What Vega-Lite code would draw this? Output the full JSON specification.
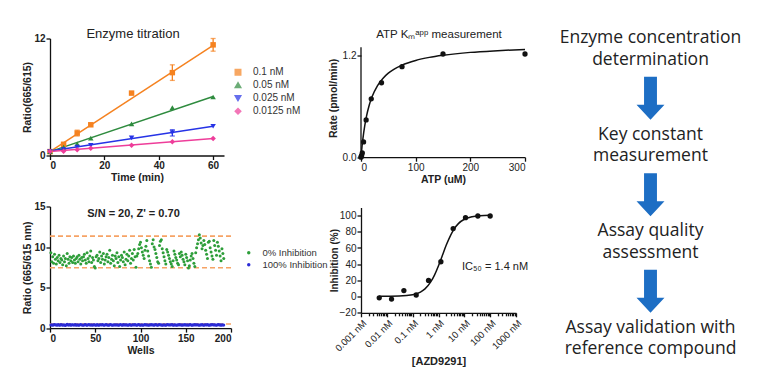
{
"$schema": "https://vega.github.io/schema/vega-lite/v6.json",
"background": "white",
"padding": {"left": 22, "top": 27.5, "right": 0, "bottom": 0},
"spacing": 0,
"resolve": {"scale": {"color": "independent", "shape": "independent"}, "legend": {"color": "independent", "shape": "independent"}},
"config": {
  "view": {"stroke": null},
  "font": "Liberation Sans",
  "axis": {"grid": false, "domainColor": "#111", "tickColor": "#111", "domainWidth": 1.3, "tickWidth": 1.3, "tickSize": 4, "labelFontSize": 10, "labelColor": "#222", "labelPadding": 1, "titleFontSize": 10.5, "titleFontWeight": "bold", "titleColor": "#222", "titlePadding": 2},
  "legend": {"labelFont": "Liberation Sans", "labelColor": "#333", "padding": 0}
},
"datasets": {
  "fit1": [
    {"conc": "0.1 nM", "t": 0, "r": 0.4}, {"conc": "0.1 nM", "t": 60, "r": 11.3},
    {"conc": "0.05 nM", "t": 0, "r": 0.4}, {"conc": "0.05 nM", "t": 60, "r": 6.05},
    {"conc": "0.025 nM", "t": 0, "r": 0.45}, {"conc": "0.025 nM", "t": 60, "r": 3.0},
    {"conc": "0.0125 nM", "t": 0, "r": 0.4}, {"conc": "0.0125 nM", "t": 60, "r": 1.75}
  ],
  "titr": [
    {"conc": "0.1 nM", "t": 0, "r": 0.4}, {"conc": "0.1 nM", "t": 5, "r": 1.15}, {"conc": "0.1 nM", "t": 10, "r": 2.3, "lo": 2.0, "hi": 2.6}, {"conc": "0.1 nM", "t": 15, "r": 3.15}, {"conc": "0.1 nM", "t": 30, "r": 6.4}, {"conc": "0.1 nM", "t": 45, "r": 8.5, "lo": 7.7, "hi": 9.3}, {"conc": "0.1 nM", "t": 60, "r": 11.35, "lo": 10.7, "hi": 12.0},
    {"conc": "0.05 nM", "t": 0, "r": 0.4}, {"conc": "0.05 nM", "t": 5, "r": 0.85}, {"conc": "0.05 nM", "t": 10, "r": 1.2}, {"conc": "0.05 nM", "t": 15, "r": 1.78}, {"conc": "0.05 nM", "t": 30, "r": 3.25}, {"conc": "0.05 nM", "t": 45, "r": 4.9}, {"conc": "0.05 nM", "t": 60, "r": 6.0},
    {"conc": "0.025 nM", "t": 0, "r": 0.4}, {"conc": "0.025 nM", "t": 5, "r": 0.6}, {"conc": "0.025 nM", "t": 10, "r": 0.85}, {"conc": "0.025 nM", "t": 15, "r": 1.05}, {"conc": "0.025 nM", "t": 30, "r": 1.8}, {"conc": "0.025 nM", "t": 45, "r": 2.35, "lo": 2.0, "hi": 2.65}, {"conc": "0.025 nM", "t": 60, "r": 3.0},
    {"conc": "0.0125 nM", "t": 0, "r": 0.4}, {"conc": "0.0125 nM", "t": 5, "r": 0.44}, {"conc": "0.0125 nM", "t": 10, "r": 0.6}, {"conc": "0.0125 nM", "t": 15, "r": 0.75}, {"conc": "0.0125 nM", "t": 30, "r": 1.05}, {"conc": "0.0125 nM", "t": 45, "r": 1.4}, {"conc": "0.0125 nM", "t": 60, "r": 1.75}
  ],
  "cuts": [{"v": 11.35}, {"v": 7.45}, {"v": 0.5}],
  "wells": [
{"w":1,"p0":9.3,"p100":0.38},{"w":2,"p0":8.2,"p100":0.42},{"w":3,"p0":8.8,"p100":0.35},{"w":4,"p0":8.0,"p100":0.40},{"w":5,"p0":9.1,"p100":0.45},{"w":6,"p0":8.5,"p100":0.37},{"w":7,"p0":7.9,"p100":0.41},{"w":8,"p0":8.7,"p100":0.36},{"w":9,"p0":8.3,"p100":0.43},{"w":10,"p0":9.0,"p100":0.39},{"w":11,"p0":8.1,"p100":0.34},{"w":12,"p0":8.6,"p100":0.44},
{"w":13,"p0":8.4,"p100":0.40},{"w":14,"p0":7.8,"p100":0.36},{"w":15,"p0":8.9,"p100":0.42},{"w":16,"p0":8.2,"p100":0.38},{"w":17,"p0":8.6,"p100":0.33},{"w":18,"p0":7.7,"p100":0.41},{"w":19,"p0":9.2,"p100":0.46},{"w":20,"p0":8.5,"p100":0.37},{"w":21,"p0":8.0,"p100":0.39},{"w":22,"p0":8.8,"p100":0.43},{"w":23,"p0":8.3,"p100":0.35},{"w":24,"p0":8.7,"p100":0.40},
{"w":25,"p0":8.1,"p100":0.42},{"w":26,"p0":8.9,"p100":0.37},{"w":27,"p0":8.4,"p100":0.39},{"w":28,"p0":8.0,"p100":0.44},{"w":29,"p0":8.6,"p100":0.36},{"w":30,"p0":8.8,"p100":0.40},{"w":31,"p0":8.2,"p100":0.38},{"w":32,"p0":9.0,"p100":0.34},{"w":33,"p0":8.5,"p100":0.41},{"w":34,"p0":7.9,"p100":0.45},{"w":35,"p0":8.7,"p100":0.37},{"w":36,"p0":8.3,"p100":0.39},
{"w":37,"p0":8.8,"p100":0.36},{"w":38,"p0":9.1,"p100":0.41},{"w":39,"p0":8.4,"p100":0.43},{"w":40,"p0":8.0,"p100":0.38},{"w":41,"p0":9.3,"p100":0.35},{"w":42,"p0":8.6,"p100":0.40},{"w":43,"p0":8.2,"p100":0.44},{"w":44,"p0":8.9,"p100":0.37},{"w":45,"p0":9.5,"p100":0.39},{"w":46,"p0":8.1,"p100":0.42},{"w":47,"p0":8.7,"p100":0.34},{"w":48,"p0":8.4,"p100":0.40},
{"w":49,"p0":7.6,"p100":0.41},{"w":50,"p0":7.4,"p100":0.38},{"w":51,"p0":8.8,"p100":0.36},{"w":52,"p0":9.0,"p100":0.43},{"w":53,"p0":8.3,"p100":0.39},{"w":54,"p0":8.6,"p100":0.35},{"w":55,"p0":9.4,"p100":0.42},{"w":56,"p0":8.1,"p100":0.40},{"w":57,"p0":8.9,"p100":0.37},{"w":58,"p0":8.5,"p100":0.45},{"w":59,"p0":9.2,"p100":0.38},{"w":60,"p0":7.9,"p100":0.36},
{"w":61,"p0":8.4,"p100":0.40},{"w":62,"p0":8.8,"p100":0.43},{"w":63,"p0":9.1,"p100":0.37},{"w":64,"p0":8.2,"p100":0.39},{"w":65,"p0":8.7,"p100":0.34},{"w":66,"p0":9.6,"p100":0.41},{"w":67,"p0":8.0,"p100":0.44},{"w":68,"p0":8.5,"p100":0.38},{"w":69,"p0":9.0,"p100":0.36},{"w":70,"p0":8.3,"p100":0.42},{"w":71,"p0":7.7,"p100":0.39},{"w":72,"p0":8.9,"p100":0.40},
{"w":73,"p0":8.6,"p100":0.37},{"w":74,"p0":9.3,"p100":0.42},{"w":75,"p0":8.1,"p100":0.38},{"w":76,"p0":8.8,"p100":0.35},{"w":77,"p0":7.6,"p100":0.41},{"w":78,"p0":8.4,"p100":0.44},{"w":79,"p0":9.0,"p100":0.39},{"w":80,"p0":8.7,"p100":0.36},{"w":81,"p0":8.2,"p100":0.43},{"w":82,"p0":9.4,"p100":0.38},{"w":83,"p0":7.8,"p100":0.40},{"w":84,"p0":8.5,"p100":0.37},
{"w":85,"p0":9.1,"p100":0.42},{"w":86,"p0":8.3,"p100":0.36},{"w":87,"p0":8.9,"p100":0.39},{"w":88,"p0":9.6,"p100":0.45},{"w":89,"p0":8.0,"p100":0.38},{"w":90,"p0":8.6,"p100":0.35},{"w":91,"p0":9.2,"p100":0.41},{"w":92,"p0":8.4,"p100":0.40},{"w":93,"p0":9.7,"p100":0.37},{"w":94,"p0":8.8,"p100":0.43},{"w":95,"p0":7.5,"p100":0.39},{"w":96,"p0":8.9,"p100":0.36},
{"w":97,"p0":9.2,"p100":0.41},{"w":98,"p0":9.8,"p100":0.44},{"w":99,"p0":10.3,"p100":0.38},{"w":100,"p0":10.6,"p100":0.36},{"w":101,"p0":9.9,"p100":0.42},{"w":102,"p0":9.4,"p100":0.39},{"w":103,"p0":9.0,"p100":0.35},{"w":104,"p0":8.6,"p100":0.40},{"w":105,"p0":9.6,"p100":0.43},{"w":106,"p0":10.1,"p100":0.37},{"w":107,"p0":10.8,"p100":0.41},{"w":108,"p0":9.5,"p100":0.38},
{"w":109,"p0":8.9,"p100":0.36},{"w":110,"p0":8.3,"p100":0.42},{"w":111,"p0":7.9,"p100":0.39},{"w":112,"p0":7.5,"p100":0.45},{"w":113,"p0":10.4,"p100":0.37},{"w":114,"p0":10.9,"p100":0.40},{"w":115,"p0":10.0,"p100":0.34},{"w":116,"p0":9.7,"p100":0.41},{"w":117,"p0":9.2,"p100":0.43},{"w":118,"p0":8.7,"p100":0.38},{"w":119,"p0":8.2,"p100":0.36},{"w":120,"p0":8.0,"p100":0.40},
{"w":121,"p0":10.2,"p100":0.44},{"w":122,"p0":10.7,"p100":0.38},{"w":123,"p0":10.9,"p100":0.41},{"w":124,"p0":9.8,"p100":0.36},{"w":125,"p0":9.3,"p100":0.39},{"w":126,"p0":8.8,"p100":0.42},{"w":127,"p0":8.3,"p100":0.37},{"w":128,"p0":7.9,"p100":0.35},{"w":129,"p0":9.7,"p100":0.40},{"w":130,"p0":9.4,"p100":0.43},{"w":131,"p0":9.0,"p100":0.38},{"w":132,"p0":8.6,"p100":0.41},
{"w":133,"p0":8.2,"p100":0.37},{"w":134,"p0":7.9,"p100":0.40},{"w":135,"p0":7.6,"p100":0.44},{"w":136,"p0":8.3,"p100":0.36},{"w":137,"p0":9.5,"p100":0.39},{"w":138,"p0":9.1,"p100":0.42},{"w":139,"p0":8.7,"p100":0.38},{"w":140,"p0":8.4,"p100":0.35},{"w":141,"p0":8.0,"p100":0.41},{"w":142,"p0":7.8,"p100":0.37},{"w":143,"p0":9.2,"p100":0.43},{"w":144,"p0":8.8,"p100":0.39},
{"w":145,"p0":9.4,"p100":0.40},{"w":146,"p0":9.0,"p100":0.36},{"w":147,"p0":8.5,"p100":0.42},{"w":148,"p0":8.2,"p100":0.38},{"w":149,"p0":7.8,"p100":0.45},{"w":150,"p0":9.1,"p100":0.37},{"w":151,"p0":8.7,"p100":0.39},{"w":152,"p0":8.3,"p100":0.41},{"w":153,"p0":7.4,"p100":0.35},{"w":154,"p0":7.7,"p100":0.40},{"w":155,"p0":8.4,"p100":0.43},{"w":156,"p0":8.9,"p100":0.38},
{"w":157,"p0":9.2,"p100":0.36},{"w":158,"p0":8.6,"p100":0.41},{"w":159,"p0":8.0,"p100":0.39},{"w":160,"p0":7.6,"p100":0.44},{"w":161,"p0":9.3,"p100":0.37},{"w":162,"p0":9.9,"p100":0.40},{"w":163,"p0":10.4,"p100":0.42},{"w":164,"p0":10.9,"p100":0.38},{"w":165,"p0":11.5,"p100":0.35},{"w":166,"p0":11.1,"p100":0.41},{"w":167,"p0":10.5,"p100":0.39},{"w":168,"p0":9.8,"p100":0.43},
{"w":169,"p0":10.2,"p100":0.38},{"w":170,"p0":10.8,"p100":0.36},{"w":171,"p0":10.3,"p100":0.42},{"w":172,"p0":9.6,"p100":0.40},{"w":173,"p0":9.1,"p100":0.37},{"w":174,"p0":8.6,"p100":0.44},{"w":175,"p0":10.6,"p100":0.39},{"w":176,"p0":10.7,"p100":0.35},{"w":177,"p0":9.9,"p100":0.41},{"w":178,"p0":9.4,"p100":0.38},{"w":179,"p0":8.9,"p100":0.43},{"w":180,"p0":8.5,"p100":0.40},
{"w":181,"p0":10.8,"p100":0.37},{"w":182,"p0":10.2,"p100":0.42},{"w":183,"p0":9.6,"p100":0.39},{"w":184,"p0":9.0,"p100":0.36},{"w":185,"p0":10.6,"p100":0.41},{"w":186,"p0":10.1,"p100":0.45},{"w":187,"p0":9.5,"p100":0.38},{"w":188,"p0":8.9,"p100":0.40},{"w":189,"p0":8.3,"p100":0.35},{"w":190,"p0":9.8,"p100":0.42},{"w":191,"p0":9.2,"p100":0.39},{"w":192,"p0":8.6,"p100":0.37}
  ],
  "km": [
    {"a": 0, "v": 0}, {"a": 0.59, "v": 0.01}, {"a": 1.17, "v": 0.02}, {"a": 2.34, "v": 0.05}, {"a": 4.69, "v": 0.18}, {"a": 9.38, "v": 0.44}, {"a": 18.75, "v": 0.69}, {"a": 37.5, "v": 0.88}, {"a": 75, "v": 1.07}, {"a": 150, "v": 1.22}, {"a": 300, "v": 1.22}
  ],
  "kmfit": [
    {"a": 0, "v": 0}, {"a": 2, "v": 0.135}, {"a": 5, "v": 0.293}, {"a": 10, "v": 0.482}, {"a": 15, "v": 0.614}, {"a": 20, "v": 0.711}, {"a": 30, "v": 0.844}, {"a": 40, "v": 0.931}, {"a": 50, "v": 0.993}, {"a": 60, "v": 1.038}, {"a": 75, "v": 1.089}, {"a": 100, "v": 1.144}, {"a": 125, "v": 1.18}, {"a": 150, "v": 1.205}, {"a": 200, "v": 1.239}, {"a": 250, "v": 1.259}, {"a": 300, "v": 1.274}
  ],
  "ic": [
    {"c": 0.00508, "inh": -1.5}, {"c": 0.0152, "inh": -3}, {"c": 0.0457, "inh": 7.5}, {"c": 0.137, "inh": 2}, {"c": 0.412, "inh": 20}, {"c": 1.235, "inh": 43}, {"c": 3.7, "inh": 84}, {"c": 11.1, "inh": 97.5}, {"c": 33.3, "inh": 99.5}, {"c": 100, "inh": 99.5}
  ],
  "icfit": [
    {"c": 0.005, "inh": 0.52}, {"c": 0.01, "inh": 0.56}, {"c": 0.03, "inh": 0.81}, {"c": 0.1, "inh": 2.37}, {"c": 0.2, "inh": 5.62}, {"c": 0.3, "inh": 9.52}, {"c": 0.5, "inh": 18.1}, {"c": 0.7, "inh": 26.6}, {"c": 1, "inh": 38.1}, {"c": 1.4, "inh": 50.5}, {"c": 2, "inh": 63.6}, {"c": 3, "inh": 76.3}, {"c": 4, "inh": 83.35}, {"c": 6, "inh": 90.4}, {"c": 10, "inh": 95.5}, {"c": 20, "inh": 98.7}, {"c": 40, "inh": 99.85}, {"c": 100, "inh": 100.3}
  ],
  "flow": [
    {"s": 1, "label": "Enzyme concentration\ndetermination"},
    {"s": 2, "label": "Key constant\nmeasurement"},
    {"s": 3, "label": "Assay quality\nassessment"},
    {"s": 4, "label": "Assay validation with\nreference compound"}
  ],
  "arrows": [{"s": 1.5}, {"s": 2.5}, {"s": 3.5}]
},
"hconcat": [
  {
    "spacing": 18,
    "resolve": {"scale": {"color": "independent", "shape": "independent"}, "legend": {"color": "independent", "shape": "independent"}},
    "vconcat": [
      {
        "width": 174, "height": 117,
        "title": {"text": "Enzyme titration", "fontSize": 13, "fontWeight": "normal", "color": "#222", "anchor": "middle", "frame": "group", "offset": -7.5, "dx": -4},
        "layer": [
          {"data": {"name": "fit1"}, "mark": {"type": "line", "strokeWidth": 1.5},
           "encoding": {
             "x": {"field": "t", "type": "quantitative", "title": "Time (min)", "scale": {"domain": [0, 64], "nice": false}, "axis": {"values": [0, 20, 40, 60], "labelFontWeight": "bold"}},
             "y": {"field": "r", "type": "quantitative", "title": "Ratio(665/615)", "scale": {"domain": [0, 12], "nice": false}, "axis": {"values": [0, 4, 8, 12], "labelFontWeight": "bold", "titlePadding": 1}},
             "color": {"field": "conc", "type": "nominal", "scale": {"domain": ["0.1 nM", "0.05 nM", "0.025 nM", "0.0125 nM"], "range": ["#f58220", "#2e8b3e", "#2633e6", "#ee3d9a"]}, "legend": {"title": null, "orient": "none", "legendX": 183, "legendY": 28.7, "labelFontSize": 10, "symbolSize": 30, "rowPadding": 1, "labelOffset": 10}}
           }},
          {"data": {"name": "titr"}, "transform": [{"filter": "isValid(datum.lo)"}],
           "mark": {"type": "errorbar", "ticks": true, "thickness": 1.3},
           "encoding": {
             "x": {"field": "t", "type": "quantitative", "title": "Time (min)"},
             "y": {"field": "lo", "type": "quantitative", "title": "Ratio(665/615)"},
             "y2": {"field": "hi"},
             "color": {"field": "conc", "type": "nominal", "legend": {"title": null, "orient": "none", "legendX": 183, "legendY": 28.7, "labelFontSize": 10, "symbolSize": 30, "rowPadding": 1, "labelOffset": 10}}
           }},
          {"data": {"name": "titr"}, "mark": {"type": "point", "filled": true, "size": 30, "opacity": 1},
           "encoding": {
             "x": {"field": "t", "type": "quantitative", "title": "Time (min)"},
             "y": {"field": "r", "type": "quantitative", "title": "Ratio(665/615)"},
             "color": {"field": "conc", "type": "nominal", "legend": {"title": null, "orient": "none", "legendX": 183, "legendY": 28.7, "labelFontSize": 10, "symbolSize": 30, "rowPadding": 1, "labelOffset": 10}},
             "shape": {"field": "conc", "type": "nominal", "scale": {"domain": ["0.1 nM", "0.05 nM", "0.025 nM", "0.0125 nM"], "range": ["square", "triangle-up", "triangle-down", "diamond"]}, "legend": {"title": null, "orient": "none", "legendX": 183, "legendY": 28.7, "labelFontSize": 10, "symbolSize": 30, "rowPadding": 1, "labelOffset": 10}}
           }}
        ]
      },
      {
        "width": 181, "height": 121.6,
        "title": {"text": "S/N = 20, Z' = 0.70", "fontSize": 11, "fontWeight": "bold", "color": "#222", "anchor": "middle", "frame": "group", "offset": -17.5, "dx": -7},
        "layer": [
          {"data": {"name": "cuts"}, "mark": {"type": "rule", "color": "#f6a365", "strokeDash": [5, 3], "strokeWidth": 1.6},
           "encoding": {"y": {"field": "v", "type": "quantitative", "title": "Ratio (665/615 nm)", "scale": {"domain": [0, 15], "nice": false}, "axis": {"values": [0, 5, 10, 15], "labelFontWeight": "bold", "titlePadding": 1}}}},
          {"data": {"name": "wells"}, "transform": [{"fold": ["p100", "p0"], "as": ["grp", "ratio"]}],
           "mark": {"type": "circle", "size": 9, "opacity": 1},
           "encoding": {
             "x": {"field": "w", "type": "quantitative", "title": "Wells", "scale": {"domain": [0, 200], "nice": false}, "axis": {"values": [0, 50, 100, 150, 200], "labelFontWeight": "bold"}},
             "y": {"field": "ratio", "type": "quantitative", "title": "Ratio (665/615 nm)", "scale": {"domain": [0, 15], "nice": false}, "axis": {"values": [0, 5, 10, 15], "labelFontWeight": "bold", "titlePadding": 1}},
             "color": {"field": "grp", "type": "nominal", "scale": {"domain": ["p0", "p100"], "range": ["#2e9e3a", "#2b2bd6"]}, "legend": {"title": null, "orient": "none", "legendX": 194, "legendY": 41.5, "labelFontSize": 9.5, "symbolSize": 12, "rowPadding": 1, "labelOffset": 9, "labelExpr": "datum.label == 'p0' ? '0% Inhibition' : '100% Inhibition'"}}
           }}
        ]
      }
    ]
  },
  {
    "spacing": 22,
    "vconcat": [
      {
        "width": 164, "height": 118.7,
        "title": {"text": "ATP Kₘᵃᵖᵖ measurement", "fontSize": 11.5, "fontWeight": "normal", "color": "#222", "anchor": "middle", "frame": "group", "offset": -1.5, "dx": -4},
        "layer": [
          {"data": {"name": "kmfit"}, "mark": {"type": "line", "color": "#111", "strokeWidth": 1.5, "interpolate": "monotone"},
           "encoding": {
             "x": {"field": "a", "type": "quantitative", "title": "ATP (uM)", "scale": {"domain": [0, 300], "nice": false}, "axis": {"values": [0, 50, 100, 150, 200, 250, 300]}},
             "y": {"field": "v", "type": "quantitative", "title": "Rate (pmol/min)", "scale": {"domain": [0, 1.403], "nice": false}, "axis": {"values": [0, 0.4, 0.8, 1.2], "format": ".1f", "titlePadding": 4, "domain": false}}
           }},
          {"data": {"values": [{}]}, "mark": {"type": "rule", "color": "#111", "strokeWidth": 1.3},
           "encoding": {"x": {"datum": 0, "type": "quantitative"}, "y": {"datum": 0, "type": "quantitative"}, "y2": {"datum": 1.3}}},
          {"data": {"name": "km"}, "mark": {"type": "circle", "size": 28, "color": "#111", "opacity": 1},
           "encoding": {"x": {"field": "a", "type": "quantitative", "title": "ATP (uM)"}, "y": {"field": "v", "type": "quantitative", "title": "Rate (pmol/min)"}}}
        ]
      },
      {
        "width": 155, "height": 105.3,
        "resolve": {"axis": {"x": "independent"}},
        "layer": [
          {"data": {"name": "icfit"}, "mark": {"type": "line", "color": "#111", "strokeWidth": 1.5, "interpolate": "monotone"},
           "encoding": {
             "x": {"field": "c", "type": "quantitative", "scale": {"type": "log", "domain": [0.001, 1000], "nice": false}, "axis": {"orient": "bottom", "values": [0.002,0.003,0.004,0.005,0.006,0.007,0.008,0.009,0.02,0.03,0.04,0.05,0.06,0.07,0.08,0.09,0.2,0.3,0.4,0.5,0.6,0.7,0.8,0.9,2,3,4,5,6,7,8,9,20,30,40,50,60,70,80,90,200,300,400,500,600,700,800,900], "labels": false, "domain": false, "tickSize": 3, "title": null}},
             "y": {"field": "inh", "type": "quantitative", "title": "Inhibition (%)", "scale": {"domain": [-20, 110], "nice": false}, "axis": {"values": [-20, 0, 20, 40, 60, 80, 100], "titlePadding": 0, "titleFontSize": 10}}
           }},
          {"data": {"name": "ic"}, "mark": {"type": "circle", "size": 28, "color": "#111", "opacity": 1},
           "encoding": {
             "x": {"field": "c", "type": "quantitative", "title": "[AZD9291]", "axis": {"orient": "bottom", "values": [0.001, 0.01, 0.1, 1, 10, 100, 1000], "labelExpr": "format(datum.value, '~g') + ' nM'", "labelAngle": -45, "labelFontSize": 9.5, "labelOverlap": false, "titleFontSize": 11, "titlePadding": 3}},
             "y": {"field": "inh", "type": "quantitative", "title": "Inhibition (%)", "axis": {"values": [-20, 0, 20, 40, 60, 80, 100], "titlePadding": 0, "titleFontSize": 10}}
           }},
          {"data": {"values": [{}]}, "mark": {"type": "text", "fontSize": 11, "color": "#222"},
           "encoding": {
             "x": {"datum": 154, "type": "quantitative", "axis": null},
             "y": {"datum": 36, "type": "quantitative", "title": "Inhibition (%)", "axis": {"values": [-20, 0, 20, 40, 60, 80, 100], "titlePadding": 0, "titleFontSize": 10}},
             "text": {"value": "IC₅₀ = 1.4 nM"}
           }}
        ]
      }
    ]
  },
  {
    "width": 243, "height": 345,
    "layer": [
      {"data": {"name": "flow"}, "mark": {"type": "text", "font": "Open Sans", "fontSize": 17.5, "color": "#222", "lineBreak": "\n", "lineHeight": 21.7, "baseline": "middle", "align": "center"},
       "encoding": {
         "y": {"field": "s", "type": "quantitative", "scale": {"domain": [1.004, 4.578], "reverse": true, "nice": false, "zero": false}, "axis": null},
         "text": {"field": "label"}
       }},
      {"data": {"name": "arrows"}, "mark": {"type": "point", "shape": "M-0.3,-0.45L0.3,-0.45L0.3,0.85L0.65,0.85L0,1.55L-0.65,0.85L-0.3,0.85Z", "filled": true, "color": "#1d6ec4", "size": 1849, "opacity": 1, "strokeWidth": 0},
       "encoding": {"y": {"field": "s", "type": "quantitative", "axis": null}}}
    ]
  }
]
}
